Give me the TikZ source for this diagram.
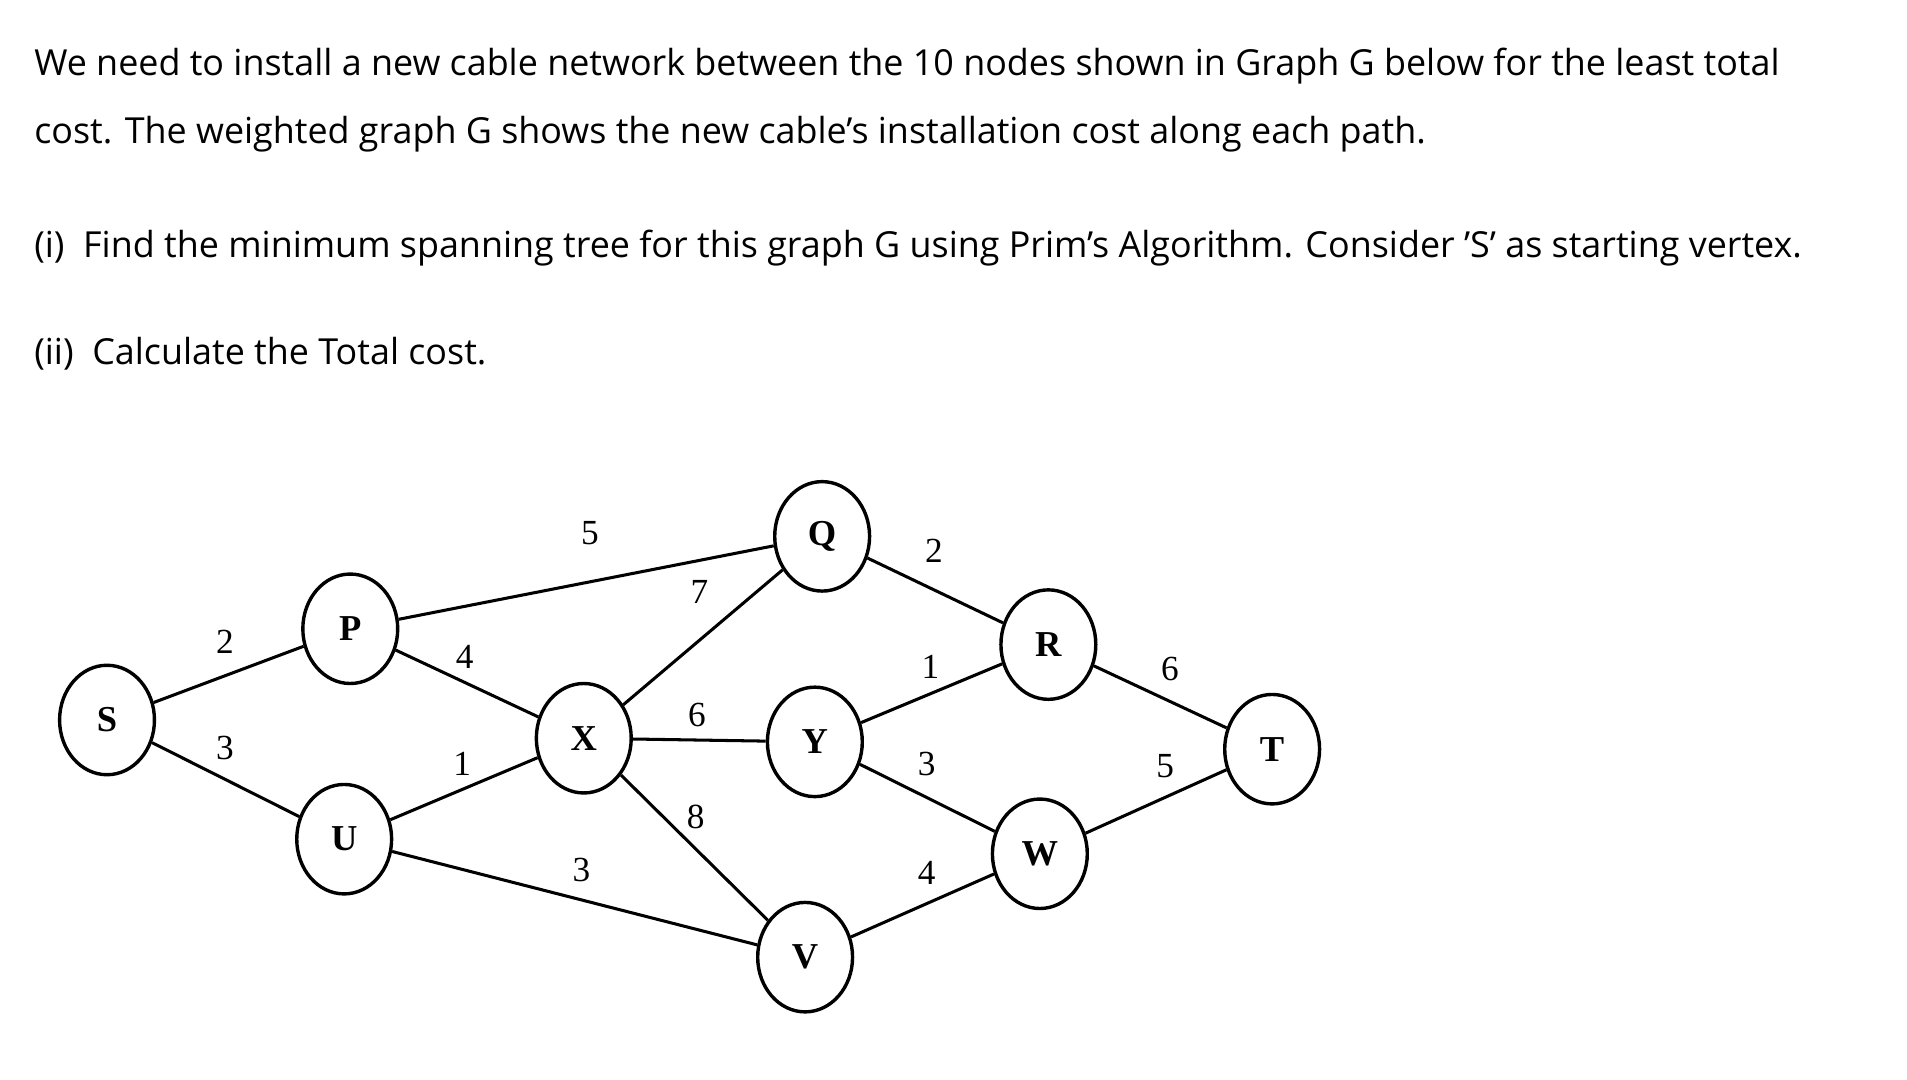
\documentclass[tikz,border=0pt]{standalone}
\usepackage{fontspec}
\usetikzlibrary{shapes.geometric}
\setmainfont{Open Sans}
\newfontfamily\gfont{Liberation Serif}
\begin{document}
\begin{tikzpicture}[x=1pt,y=-1pt,
  vtx/.style={draw,line width=2.8pt,ellipse,minimum width=78pt,minimum height=90pt,inner sep=0pt,font=\gfont\bfseries\fontsize{30}{30}\selectfont,fill=white},
  edge/.style={line width=2.5pt},
  wt/.style={font=\gfont\fontsize{29}{29}\selectfont},
  txt/.style={anchor=base west,inner sep=0pt,font=\fontsize{29.5}{29.5}\selectfont}]
\useasboundingbox[fill=white] (0,0) rectangle (1568,888);
\node[txt] (l1) at (28,62) {We need to install a new cable network between the 10 nodes shown in Graph G below for the least total};
\node[txt] (l2) at (28,118) {cost. The weighted graph G shows the new cable's installation cost along each path.};
\node[txt] (l3) at (28,212) {(i)\ \ Find the minimum spanning tree for this graph G using Prim's Algorithm. Consider 'S' as starting vertex.};
\node[txt] (l4) at (28,300) {(ii)\ \ Calculate the Total cost.};
\node[vtx] (S) at (88,592) {S};
\node[vtx] (P) at (288,517) {P};
\node[vtx] (U) at (283,690) {U};
\node[vtx] (X) at (480,607) {X};
\node[vtx] (Q) at (676,441) {Q};
\node[vtx] (Y) at (670,610) {Y};
\node[vtx] (R) at (862,530) {R};
\node[vtx] (W) at (855,702) {W};
\node[vtx] (V) at (662,787) {V};
\node[vtx] (T) at (1046,616) {T};
\draw[edge] (S)--(P); \draw[edge] (S)--(U); \draw[edge] (P)--(X); \draw[edge] (U)--(X);
\draw[edge] (P)--(Q); \draw[edge] (X)--(Q); \draw[edge] (X)--(Y); \draw[edge] (X)--(V);
\draw[edge] (U)--(V); \draw[edge] (Q)--(R); \draw[edge] (Y)--(R); \draw[edge] (Y)--(W);
\draw[edge] (V)--(W); \draw[edge] (R)--(T); \draw[edge] (W)--(T);
\node[wt] (w1) at (185,528) {2};
\node[wt] (w2) at (185,615) {3};
\node[wt] (w3) at (382,540) {4};
\node[wt] (w4) at (380,628) {1};
\node[wt] (w5) at (485,438) {5};
\node[wt] (w6) at (575,487) {7};
\node[wt] (w7) at (573,588) {6};
\node[wt] (w8) at (572,672) {8};
\node[wt] (w9) at (478,715) {3};
\node[wt] (w10) at (768,453) {2};
\node[wt] (w11) at (765,548) {1};
\node[wt] (w12) at (762,628) {3};
\node[wt] (w13) at (762,718) {4};
\node[wt] (w14) at (962,550) {6};
\node[wt] (w15) at (958,630) {5};
\end{tikzpicture}
\end{document}
